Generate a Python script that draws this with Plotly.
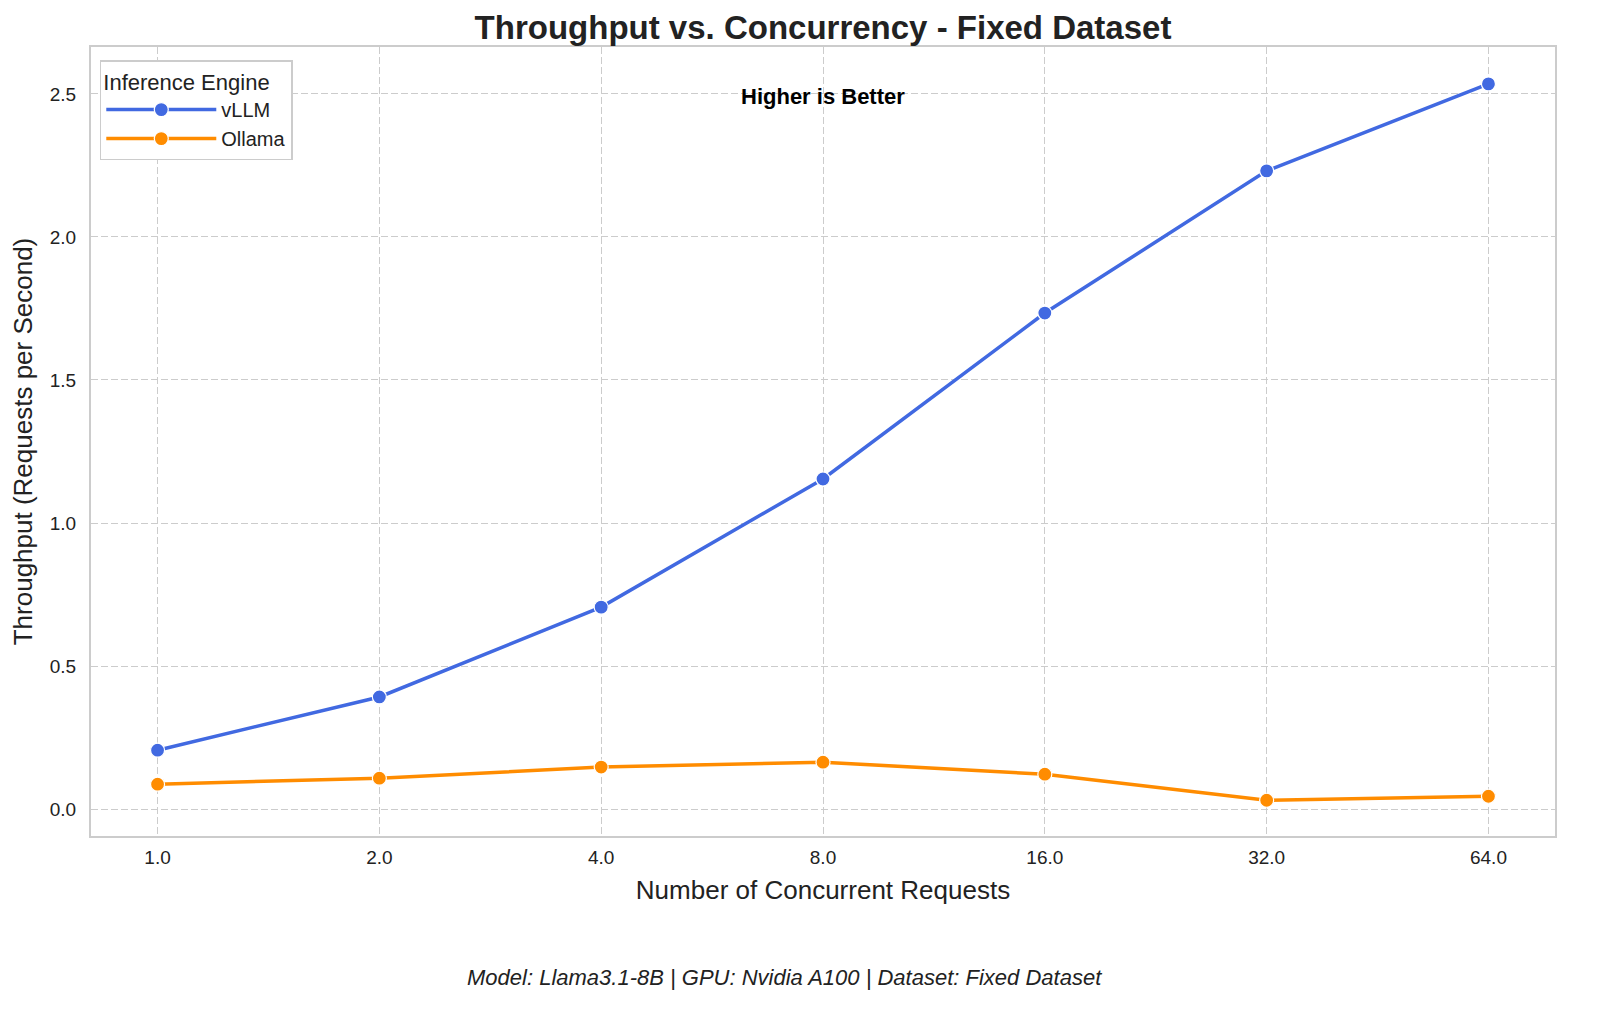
import math
import plotly.graph_objects as go

concurrency = [1, 2, 4, 8, 16, 32, 64]
tick_labels = ["1.0", "2.0", "4.0", "8.0", "16.0", "32.0", "64.0"]
vllm = [0.206, 0.392, 0.706, 1.154, 1.734, 2.231, 2.535]
ollama = [0.087, 0.108, 0.147, 0.164, 0.122, 0.031, 0.045]
y_ticks = [0.0, 0.5, 1.0, 1.5, 2.0, 2.5]

FONT = "Arial, Liberation Sans, sans-serif"
BLUE = "#4169E1"
ORANGE = "#FF8C00"
GRID = "#cccccc"
TXT = "#222222"

fig = go.Figure()
for name, vals, col in [("vLLM", vllm, BLUE), ("Ollama", ollama, ORANGE)]:
    fig.add_trace(go.Scatter(
        x=concurrency, y=vals, name=name, mode="lines+markers",
        line=dict(color=col, width=3.5),
        marker=dict(color=col, size=14, line=dict(color="white", width=1.2)),
    ))

W, H = 1584, 1007  # page body margin of 8px keeps the page at 1600x1023
lg2 = math.log10(2)
DASH = "7px,3px"
fig.update_layout(
    width=W, height=H,
    margin=dict(l=83, r=37, t=39, b=179),
    paper_bgcolor="white", plot_bgcolor="white",
    font=dict(family=FONT, color=TXT),
    title=dict(text="<b>Throughput vs. Concurrency - Fixed Dataset</b>",
               x=0.5, xref="paper", xanchor="center",
               y=1 - 19 / H, yref="container", yanchor="middle",
               font=dict(size=33, color=TXT, family=FONT)),
    xaxis=dict(type="log", range=[-0.3 * lg2, math.log10(64) + 0.3 * lg2],
               tickvals=concurrency, ticktext=tick_labels,
               tickfont=dict(size=19, color=TXT),
               showgrid=True, gridcolor=GRID, griddash=DASH, gridwidth=1.3,
               showline=True, linecolor=GRID, linewidth=2, mirror=True,
               ticks="", ticklabelstandoff=3,
               title=dict(text="Number of Concurrent Requests",
                          font=dict(size=26, color=TXT), standoff=14),
               zeroline=False),
    yaxis=dict(range=[-0.094, 2.664], tickvals=y_ticks,
               ticktext=[f"{v:.1f}" for v in y_ticks],
               tickfont=dict(size=19, color=TXT),
               showgrid=True, gridcolor=GRID, griddash=DASH, gridwidth=1.3,
               showline=True, linecolor=GRID, linewidth=2, mirror=True,
               ticks="", ticklabelstandoff=9,
               title=dict(text="Throughput (Requests per Second)",
                          font=dict(size=26, color=TXT), standoff=10),
               zeroline=False),
    legend=dict(x=0.006, y=0.9835, xanchor="left", yanchor="top",
                bgcolor="white", bordercolor=GRID, borderwidth=1.5,
                title=dict(text="Inference Engine", font=dict(size=22, color=TXT)),
                font=dict(size=20, color=TXT), itemwidth=110, tracegroupgap=0),
    showlegend=True,
)

fig.add_annotation(x=math.log10(8), y=(836 - 97) / 789, xref="x", yref="paper",
                   text="<b>Higher is Better</b>", showarrow=False,
                   font=dict(size=22, color="black", family=FONT),
                   xanchor="center", yanchor="middle")
fig.add_annotation(x=(784 - 91) / 1464, y=(836 - 977) / 789, xref="paper", yref="paper",
                   text="<i>Model: Llama3.1-8B | GPU: Nvidia A100 | Dataset: Fixed Dataset</i>",
                   showarrow=False, font=dict(size=22, color=TXT, family=FONT),
                   xanchor="center", yanchor="middle")

fig.write_html("out.html")
